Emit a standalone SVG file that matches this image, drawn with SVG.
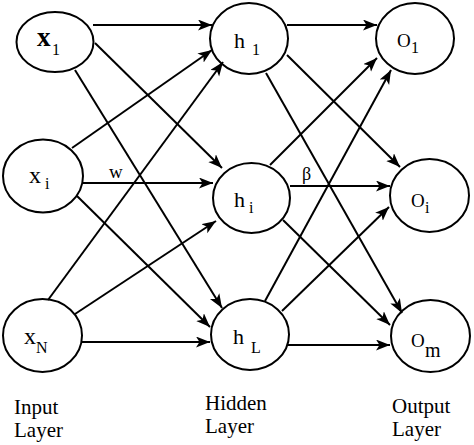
<svg xmlns="http://www.w3.org/2000/svg" width="474" height="445" viewBox="0 0 474 445" font-family="'Liberation Serif', 'Times New Roman', serif">
<style>
.n{fill:#fff;stroke:#000;stroke-width:2}
.c{stroke:#000;stroke-width:2;fill:none;marker-end:url(#ah)}
text{font-family:'Liberation Serif','Times New Roman',serif;fill:#000}
.lbl{font-size:21px}
.sub{font-size:16px}
</style>
<defs>
<marker id="ah" markerUnits="userSpaceOnUse" markerWidth="15" markerHeight="12" refX="14" refY="5.5" orient="auto">
<path d="M0,0 L14,5.5 L0,11 L3.5,5.5 z" fill="#000"/>
</marker>
</defs>
<g id="nodes-bg">
<g id="x1"><ellipse class="n" cx="55" cy="42" rx="38.5" ry="30"/><text x="37" y="46" font-size="27" font-weight="bold">x</text><text class="sub" x="52" y="55" font-size="17">1</text></g>
<g id="xi"><ellipse class="n" cx="43" cy="176" rx="40" ry="36.5"/><text x="29" y="183" font-size="24">x</text><text class="sub" x="45" y="189">i</text></g>
<g id="xN"><ellipse class="n" cx="42.5" cy="335.5" rx="39.5" ry="36.5"/><text x="24" y="344" font-size="24">x</text><text class="sub" x="36" y="353" font-size="14">N</text></g>
<g id="h1"><ellipse class="n" cx="249" cy="38.5" rx="39" ry="35.5"/><text x="234" y="48" font-size="22">h</text><text class="sub" x="252" y="55" font-size="18">1</text></g>
<g id="hi"><ellipse class="n" cx="251.5" cy="198" rx="38.5" ry="35"/><text x="234" y="207" font-size="22">h</text><text class="sub" x="249" y="213" font-size="18">i</text></g>
<g id="hL"><ellipse class="n" cx="250" cy="334.5" rx="39" ry="35.5"/><text x="233" y="344" font-size="22">h</text><text class="sub" x="251" y="353" font-size="14">L</text></g>
<g id="o1"><ellipse class="n" cx="415" cy="38.5" rx="39" ry="35.5"/><text x="397" y="47" font-size="19">O</text><text class="sub" x="411" y="53">1</text></g>
<g id="oi"><ellipse class="n" cx="429.5" cy="195.5" rx="39.5" ry="36.5"/><text x="411" y="207" font-size="19">O</text><text class="sub" x="425" y="213">i</text></g>
<g id="om"><ellipse class="n" cx="430.5" cy="336" rx="39.5" ry="36"/><text x="411" y="347" font-size="19">O</text><text x="425" y="357" font-size="20">m</text></g>
</g>
<g id="connectors">
<line class="c" x1="93" y1="25" x2="212" y2="25"/>
<line class="c" x1="95" y1="43" x2="222" y2="168"/>
<line class="c" x1="75" y1="70" x2="222" y2="308"/>
<line class="c" x1="72" y1="148" x2="212" y2="50"/>
<line class="c" x1="82" y1="183" x2="213" y2="183"/>
<line class="c" x1="77" y1="196" x2="210" y2="327"/>
<line class="c" x1="48" y1="300" x2="223" y2="62"/>
<line class="c" x1="75" y1="314" x2="216" y2="221"/>
<line class="c" x1="82" y1="342" x2="210" y2="342"/>
<line class="c" x1="287" y1="25" x2="377" y2="25"/>
<line class="c" x1="287" y1="55" x2="400" y2="167"/>
<line class="c" x1="266" y1="73" x2="402" y2="313"/>
<line class="c" x1="270" y1="165" x2="377" y2="58"/>
<line class="c" x1="290" y1="186" x2="390" y2="186"/>
<line class="c" x1="283" y1="220" x2="390" y2="325"/>
<line class="c" x1="265" y1="301" x2="391" y2="70"/>
<line class="c" x1="282" y1="311" x2="389" y2="207"/>
<line class="c" x1="288" y1="345" x2="390" y2="345"/>
<text x="109" y="178" font-size="19">w</text>
<text x="302" y="180" font-size="18">β</text>
</g>
<g id="layer-labels" class="lbl">
<text x="14" y="414">Input</text>
<text x="14" y="437">Layer</text>
<text x="205" y="410">Hidden</text>
<text x="205" y="433">Layer</text>
<text x="392" y="413">Output</text>
<text x="392" y="436">Layer</text>
</g>
</svg>
